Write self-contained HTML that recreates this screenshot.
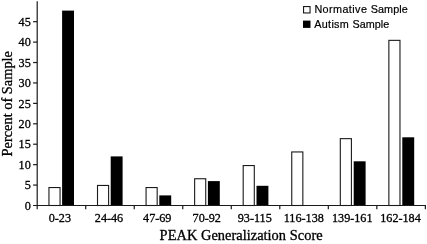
<!DOCTYPE html>
<html><head><meta charset="utf-8"><title>PEAK Generalization Score</title>
<style>html,body{margin:0;padding:0;background:#fff}body{width:427px;height:244px;overflow:hidden}</style></head>
<body>
<svg width="427" height="244" viewBox="0 0 427 244" style="display:block">
<rect width="427" height="244" fill="#fff"/>
<rect x="48.95" y="187.55" width="11.10" height="17.95" fill="#fff" stroke="#1a1a1a" stroke-width="1.1"/>
<rect x="62.10" y="10.60" width="11.9" height="194.90" fill="#000"/>
<rect x="97.51" y="185.45" width="11.10" height="20.05" fill="#fff" stroke="#1a1a1a" stroke-width="1.1"/>
<rect x="110.70" y="156.40" width="11.9" height="49.10" fill="#000"/>
<rect x="146.07" y="187.55" width="11.10" height="17.95" fill="#fff" stroke="#1a1a1a" stroke-width="1.1"/>
<rect x="159.30" y="195.40" width="11.9" height="10.10" fill="#000"/>
<rect x="194.63" y="178.75" width="11.10" height="26.75" fill="#fff" stroke="#1a1a1a" stroke-width="1.1"/>
<rect x="207.90" y="181.10" width="11.9" height="24.40" fill="#000"/>
<rect x="243.19" y="165.55" width="11.10" height="39.95" fill="#fff" stroke="#1a1a1a" stroke-width="1.1"/>
<rect x="256.50" y="185.80" width="11.9" height="19.70" fill="#000"/>
<rect x="291.75" y="151.95" width="11.10" height="53.55" fill="#fff" stroke="#1a1a1a" stroke-width="1.1"/>
<rect x="340.31" y="138.65" width="11.10" height="66.85" fill="#fff" stroke="#1a1a1a" stroke-width="1.1"/>
<rect x="353.70" y="161.30" width="11.9" height="44.20" fill="#000"/>
<rect x="388.87" y="40.35" width="11.10" height="165.15" fill="#fff" stroke="#1a1a1a" stroke-width="1.1"/>
<rect x="402.30" y="137.30" width="11.9" height="68.20" fill="#000"/>
<g stroke="#1a1a1a" stroke-width="1.2" fill="none">
<line x1="37.2" y1="1.3" x2="37.2" y2="209.2"/>
<line x1="33.1" y1="205.5" x2="425.96" y2="205.5"/>
<line x1="33.1" y1="185.07" x2="37.2" y2="185.07"/>
<line x1="33.1" y1="164.65" x2="37.2" y2="164.65"/>
<line x1="33.1" y1="144.22" x2="37.2" y2="144.22"/>
<line x1="33.1" y1="123.80" x2="37.2" y2="123.80"/>
<line x1="33.1" y1="103.38" x2="37.2" y2="103.38"/>
<line x1="33.1" y1="82.95" x2="37.2" y2="82.95"/>
<line x1="33.1" y1="62.53" x2="37.2" y2="62.53"/>
<line x1="33.1" y1="42.10" x2="37.2" y2="42.10"/>
<line x1="33.1" y1="21.68" x2="37.2" y2="21.68"/>
<line x1="85.72" y1="205.5" x2="85.72" y2="209.2"/>
<line x1="134.24" y1="205.5" x2="134.24" y2="209.2"/>
<line x1="182.76" y1="205.5" x2="182.76" y2="209.2"/>
<line x1="231.28" y1="205.5" x2="231.28" y2="209.2"/>
<line x1="279.80" y1="205.5" x2="279.80" y2="209.2"/>
<line x1="328.32" y1="205.5" x2="328.32" y2="209.2"/>
<line x1="376.84" y1="205.5" x2="376.84" y2="209.2"/>
<line x1="425.36" y1="205.5" x2="425.36" y2="209.2"/>
</g>
<g font-family="'Liberation Serif', 'Times New Roman', serif" font-size="12.2" fill="#000" stroke="#000" stroke-width="0.3">
<text x="30.8" y="209.65" text-anchor="end">0</text>
<text x="30.8" y="189.22" text-anchor="end">5</text>
<text x="30.8" y="168.80" text-anchor="end">10</text>
<text x="30.8" y="148.38" text-anchor="end">15</text>
<text x="30.8" y="127.95" text-anchor="end">20</text>
<text x="30.8" y="107.53" text-anchor="end">25</text>
<text x="30.8" y="87.10" text-anchor="end">30</text>
<text x="30.8" y="66.68" text-anchor="end">35</text>
<text x="30.8" y="46.25" text-anchor="end">40</text>
<text x="30.8" y="25.83" text-anchor="end">45</text>
<text x="59.85" y="221.6" text-anchor="middle">0-23</text>
<text x="109.00" y="221.6" text-anchor="middle">24-46</text>
<text x="157.25" y="221.6" text-anchor="middle">47-69</text>
<text x="206.75" y="221.6" text-anchor="middle">70-92</text>
<text x="254.75" y="221.6" text-anchor="middle">93-115</text>
<text x="303.75" y="221.6" text-anchor="middle">116-138</text>
<text x="352.25" y="221.6" text-anchor="middle">139-161</text>
<text x="400.50" y="221.6" text-anchor="middle">162-184</text>
</g>
<g font-family="'Liberation Serif', 'Times New Roman', serif" font-size="14.4" fill="#000" stroke="#000" stroke-width="0.3">
<text id="xt" x="159.6" y="239.5" textLength="163" lengthAdjust="spacing">PEAK Generalization Score</text>
<text id="yt" transform="translate(12.3,103.75) rotate(-90)" text-anchor="middle">Percent of Sample</text>
</g>
<rect x="303.55" y="6.55" width="6.5" height="6.4" fill="#fff" stroke="#1a1a1a" stroke-width="1.1"/>
<rect x="303" y="20.6" width="7.5" height="7.3" fill="#000"/>
<g font-family="'Liberation Sans', Arial, sans-serif" font-size="10.8" fill="#000" stroke="#000" stroke-width="0.2">
<text id="l1" x="314.4" y="13.0" textLength="52.5" lengthAdjust="spacing">Normative</text>
<text x="370.8" y="13.0" textLength="36.9" lengthAdjust="spacing">Sample</text>
<text id="l2" x="314.3" y="27.7" textLength="34.5" lengthAdjust="spacing">Autism</text>
<text x="352.6" y="27.7" textLength="36.6" lengthAdjust="spacing">Sample</text>
</g>
</svg>
</body></html>
